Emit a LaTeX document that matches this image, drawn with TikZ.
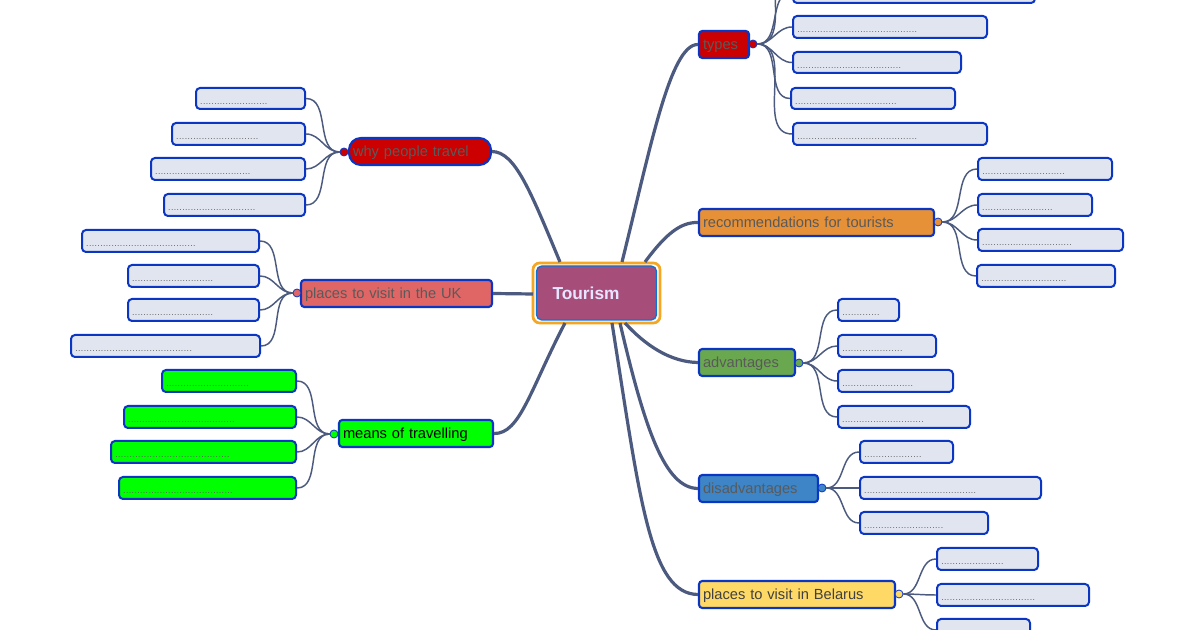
\documentclass[tikz,border=0pt]{standalone}
\usepackage{fontspec}
\setmainfont{Liberation Sans}
\definecolor{edge}{HTML}{4B5A7E}
\definecolor{bord}{HTML}{0B36C4}
\definecolor{leaffill}{HTML}{E1E5F0}
\definecolor{txt}{HTML}{5A5A5A}
\definecolor{cRed}{HTML}{CC0000}
\definecolor{cPink}{HTML}{E06666}
\definecolor{cGreen}{HTML}{00FF00}
\definecolor{cOrange}{HTML}{E69138}
\definecolor{cOlive}{HTML}{6AA84F}
\definecolor{cBlue}{HTML}{3D85C6}
\definecolor{cYellow}{HTML}{FFD966}
\definecolor{cCenter}{HTML}{A64D79}
\definecolor{cGold}{HTML}{F5A623}
\newcommand{\leaderdots}[1]{\raisebox{-4.5pt}[0pt][0pt]{\hbox to #1{\xleaders\hbox to 2.1pt{\hss.\hss}\hfill}}}
% \bx{name}{x1}{y1}{x2}{y2}{style}{text}
\newcommand{\bx}[7]{\node[#6, text width={(#4-#2)*0.75pt-6pt}, minimum height={(#5-#3)*0.75pt}] (#1) at ({(#2+#4)/2},{(#3+#5)/2}) {#7};}
\newcommand{\lf}[5]{\node[leaf, text width={(#4-#2)*0.75pt-6pt}, minimum height={(#5-#3)*0.75pt}] (#1) at ({(#2+#4)/2},{(#3+#5)/2}) {\leaderdots{\fpeval{(#4-#2)*0.75*0.62}pt}};}
\begin{document}
\begin{tikzpicture}[x=0.75pt,y=-0.75pt,
  branch/.style={draw=bord, line width=1.6pt, rounded corners=2.5pt, inner xsep=3pt, inner ysep=0pt, align=left, font=\fontsize{11}{12}\selectfont, text=txt, text depth=0pt},
  leaf/.style={draw=bord, line width=1.5pt, fill=leaffill, rounded corners=3pt, inner xsep=3pt, inner ysep=0pt, align=left, font=\fontsize{6.5}{6.5}\selectfont, text=black!65},
  mainline/.style={draw=edge, line width=2.4pt},
  subline/.style={draw=edge, line width=1.1pt},
  knob/.style={circle, draw=bord, line width=0.6pt, inner sep=0pt, minimum size=6pt}]
\useasboundingbox (0,0) rectangle (1200,630);
\clip (0,0) rectangle (1200,630);
\fill[white] (0,0) rectangle (1200,630);

% center
\node[draw=cGold, line width=2pt, rounded corners=5pt, minimum width=95.25pt, minimum height=45pt] (cout) at (596.5,293) {};
\node[draw=bord!70!cyan, fill=cCenter, line width=1pt, rounded corners=4pt, minimum width=90pt, minimum height=40.5pt, text width=78pt, align=left, inner xsep=6pt, text=white!90!blue, font=\bfseries\fontsize{13}{15}\selectfont] (center) at (596.5,293) {\hspace*{6pt}Tourism};

% branches
\bx{types}{699}{31}{749}{58}{branch, fill=cRed}{types}
\bx{why}{349}{138}{491}{165}{branch, fill=cRed, rounded corners=9pt}{why people travel}
\bx{uk}{301}{280}{492}{307}{branch, fill=cPink}{places to visit in the UK}
\bx{means}{339}{420}{493}{447}{branch, fill=cGreen, text=black}{means of travelling}
\bx{rec}{699}{209}{934}{236}{branch, fill=cOrange}{recommendations for tourists}
\bx{adv}{699}{349}{795}{376}{branch, fill=cOlive}{advantages}
\bx{dis}{699}{475}{818}{502}{branch, fill=cBlue}{disadvantages}
\bx{bel}{699}{581}{895}{608}{branch, fill=cYellow, text=black!75}{places to visit in Belarus}

% main connectors
\coordinate (s1) at (622,262); \coordinate (s2) at (560,262);
\coordinate (s3) at (533,294); \coordinate (s4) at (565,323);
\coordinate (s5) at (645,262); \coordinate (s6) at (625,323);
\coordinate (s7) at (620,323); \coordinate (s8) at (612,323);
\draw[mainline] (s1) .. controls (650,150) and (670,44) .. (types.west);
\draw[mainline] (s2) .. controls (530,190) and (515,152) .. (why.east);
\draw[mainline] (s3) -- (uk.east);
\draw[mainline] (s4) .. controls (530,390) and (520,434) .. (means.east);
\draw[mainline] (s5) .. controls (665,235) and (680,222) .. (rec.west);
\draw[mainline] (s6) .. controls (645,345) and (670,362) .. (adv.west);
\draw[mainline] (s7) .. controls (645,430) and (665,488) .. (dis.west);
\draw[mainline] (s8) .. controls (640,500) and (650,594) .. (bel.west);

% knobs
\node[knob, fill=cRed] (kt) at (753,44) {};
\node[knob, fill=cRed] (kw) at (344,152) {};
\node[knob, fill=cPink] (ku) at (297,293) {};
\node[knob, fill=cGreen] (km) at (334,434) {};
\node[knob, fill=cOrange] (kr) at (938,222) {};
\node[knob, fill=cOlive] (ka) at (799,363) {};
\node[knob, fill=cBlue] (kd) at (822,488) {};
\node[knob, fill=cYellow] (kb) at (899,594) {};

% leaves: types
\coordinate (t0) at (793,-49);
\lf{t1}{793}{-19}{1035}{3}
\lf{t2}{793}{16}{987}{38}
\lf{t3}{793}{52}{961}{73}
\lf{t4}{791}{88}{955}{109}
\lf{t5}{793}{123}{987}{145}
\draw[subline] (kt) to[out=0,in=180] (t0);
\foreach \n in {t1,t2,t3,t4,t5} \draw[subline] (kt) to[out=0,in=180] (\n.west);
% why
\lf{w1}{196}{88}{305}{109}
\lf{w2}{172}{123}{305}{145}
\lf{w3}{151}{158}{305}{180}
\lf{w4}{164}{194}{305}{216}
\foreach \n in {w1,w2,w3,w4} \draw[subline] (kw) to[out=180,in=0] (\n.east);
% uk
\lf{u1}{82}{230}{259}{252}
\lf{u2}{128}{265}{259}{287}
\lf{u3}{128}{299}{259}{321}
\lf{u4}{71}{335}{260}{357}
\foreach \n in {u1,u2,u3,u4} \draw[subline] (ku) to[out=180,in=0] (\n.east);
% means
\tikzset{leaf/.append style={fill=cGreen}}
\lf{m1}{162}{370}{296}{392}
\lf{m2}{124}{406}{296}{428}
\lf{m3}{111}{441}{296}{463}
\lf{m4}{119}{477}{296}{499}
\tikzset{leaf/.append style={fill=leaffill}}
\foreach \n in {m1,m2,m3,m4} \draw[subline] (km) to[out=180,in=0] (\n.east);
% rec
\lf{r1}{978}{158}{1112}{180}
\lf{r2}{978}{194}{1092}{216}
\lf{r3}{978}{229}{1123}{251}
\lf{r4}{977}{265}{1115}{287}
\foreach \n in {r1,r2,r3,r4} \draw[subline] (kr) to[out=0,in=180] (\n.west);
% adv
\lf{a1}{838}{299}{899}{321}
\lf{a2}{838}{335}{936}{357}
\lf{a3}{838}{370}{953}{392}
\lf{a4}{838}{406}{970}{428}
\foreach \n in {a1,a2,a3,a4} \draw[subline] (ka) to[out=0,in=180] (\n.west);
% dis
\lf{d1}{860}{441}{953}{463}
\lf{d2}{860}{477}{1041}{499}
\lf{d3}{860}{512}{988}{534}
\foreach \n in {d1,d2,d3} \draw[subline] (kd) to[out=0,in=180] (\n.west);
% belarus
\lf{b1}{937}{548}{1038}{570}
\lf{b2}{937}{584}{1089}{606}
\lf{b3}{937}{619}{1030}{641}
\foreach \n in {b1,b2,b3} \draw[subline] (kb) to[out=0,in=180] (\n.west);
\end{tikzpicture}
\end{document}
